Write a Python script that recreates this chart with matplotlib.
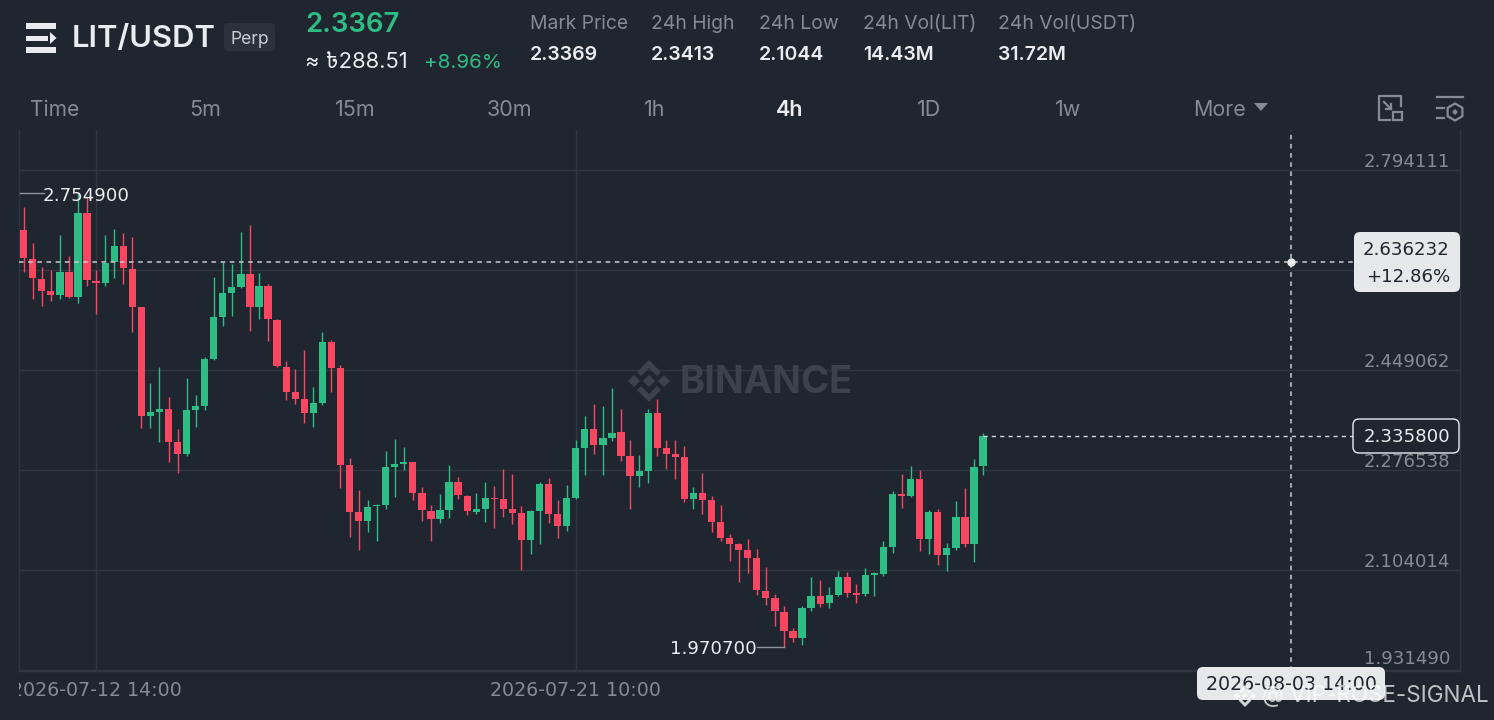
import matplotlib
matplotlib.use("Agg")
from matplotlib import pyplot as plt
from matplotlib.patches import FancyBboxPatch, Polygon, Rectangle, RegularPolygon
from matplotlib.transforms import Bbox
import numpy as np

# 4h candles, oldest first
opens = [2.6906, 2.6411, 2.6061, 2.5854, 2.5785, 2.6187, 2.5750, 2.7199, 2.6026, 2.5997,
         2.6348, 2.6630, 2.6239, 2.5572, 2.3692, 2.3772, 2.3824, 2.3249, 2.3036, 2.3807,
         2.3870, 2.4675, 2.5411, 2.5825, 2.5928, 2.6141, 2.5583, 2.5934, 2.5359, 2.4548,
         2.4106, 2.3985, 2.3755, 2.3927, 2.4968, 2.4520, 2.2846, 2.2035, 2.1891, 2.2139,
         2.2162, 2.2823, 2.2875, 2.2898, 2.2369, 2.2064, 2.1914, 2.2075, 2.2558, 2.2323,
         2.2047, 2.2098, 2.2288, 2.2259, 2.2093, 2.2018, 2.1564, 2.2058, 2.2518, 2.2001,
         2.1794, 2.2277, 2.3145, 2.3467, 2.3191, 2.3317, 2.3421, 2.3007, 2.2668, 2.2748,
         2.3743, 2.3139, 2.3041, 2.2984, 2.2265, 2.2369, 2.2242, 2.1863, 2.1587, 2.1495,
         2.1380, 2.1247, 2.0684, 2.0557, 2.0322, 1.9988, 1.9867, 2.0391, 2.0598, 2.0465,
         2.0615, 2.0914, 2.0644, 2.0621, 2.0960, 2.0971, 2.1443, 2.2346, 2.2311, 2.2604,
         2.1569, 2.2035, 2.1299, 2.1420, 2.1949, 2.1495, 2.2829]
highs = [2.7297, 2.6676, 2.6262, 2.6216, 2.6820, 2.6452, 2.7549, 2.7469, 2.6216, 2.6814,
         2.6929, 2.6860, 2.6791, 2.5578, 2.4261, 2.4537, 2.4031, 2.3479, 2.4347, 2.4054,
         2.4721, 2.6089, 2.6348, 2.6314, 2.6871, 2.6986, 2.6170, 2.5974, 2.5365, 2.4640,
         2.4502, 2.4830, 2.4203, 2.5141, 2.5014, 2.4577, 2.2967, 2.2426, 2.2242, 2.2173,
         2.3093, 2.3294, 2.3162, 2.2903, 2.2478, 2.2156, 2.2346, 2.2846, 2.2639, 2.2334,
         2.2363, 2.2553, 2.2484, 2.2777, 2.2696, 2.2139, 2.2075, 2.2553, 2.2622, 2.2248,
         2.2501, 2.3277, 2.3697, 2.3904, 2.3864, 2.4174, 2.3812, 2.3277, 2.3018, 2.3812,
         2.3990, 2.3283, 2.3283, 2.3179, 2.2466, 2.2708, 2.2311, 2.2162, 2.1656, 2.1500,
         2.1569, 2.1397, 2.1092, 2.0621, 2.0414, 2.0040, 2.0425, 2.0914, 2.0862, 2.0741,
         2.1023, 2.1000, 2.0799, 2.1069, 2.1006, 2.1535, 2.2403, 2.2691, 2.2840, 2.2760,
         2.2075, 2.2093, 2.1512, 2.2225, 2.2461, 2.2949, 2.3398]
lows = [2.6187, 2.5716, 2.5589, 2.5687, 2.5710, 2.5739, 2.5652, 2.5946, 2.5463, 2.5934,
        2.6084, 2.5969, 2.5152, 2.3490, 2.3496, 2.3255, 2.2904, 2.2714, 2.3002, 2.3513,
        2.3807, 2.4663, 2.5256, 2.5428, 2.5900, 2.5158, 2.5376, 2.4985, 2.4548, 2.3968,
        2.3910, 2.3577, 2.3513, 2.3893, 2.4117, 2.2450, 2.1615, 2.1391, 2.1702, 2.1546,
        2.2087, 2.2305, 2.2760, 2.2248, 2.1891, 2.1535, 2.1857, 2.1937, 2.2271, 2.1995,
        2.2006, 2.1868, 2.1765, 2.1960, 2.1834, 2.1046, 2.1316, 2.1495, 2.1851, 2.1592,
        2.1719, 2.2259, 2.2679, 2.3041, 2.2685, 2.3260, 2.2926, 2.2098, 2.2478, 2.2541,
        2.3013, 2.2777, 2.2616, 2.2219, 2.2098, 2.2012, 2.1702, 2.1535, 2.1201, 2.0839,
        2.0989, 2.0609, 2.0437, 2.0080, 1.9707, 1.9798, 1.9752, 2.0333, 2.0408, 2.0385,
        2.0598, 2.0569, 2.0471, 2.0586, 2.0592, 2.0943, 2.1339, 2.2116, 2.2305, 2.1374,
        2.1316, 2.1132, 2.1029, 2.1385, 2.1443, 2.1178, 2.2685]
closes = [2.6417, 2.6072, 2.5859, 2.5785, 2.6187, 2.5750, 2.7199, 2.6038, 2.5997, 2.6342,
          2.6630, 2.6245, 2.5578, 2.3692, 2.3766, 2.3824, 2.3255, 2.3036, 2.3795, 2.3864,
          2.4675, 2.5405, 2.5819, 2.5923, 2.6141, 2.5583, 2.5934, 2.5371, 2.4554, 2.4111,
          2.3996, 2.3755, 2.3922, 2.4968, 2.4531, 2.2852, 2.2047, 2.1891, 2.2133, 2.2167,
          2.2823, 2.2869, 2.2903, 2.2374, 2.2070, 2.1914, 2.2070, 2.2558, 2.2328, 2.2052,
          2.2098, 2.2282, 2.2259, 2.2093, 2.2024, 2.1564, 2.2052, 2.2518, 2.2006, 2.1794,
          2.2277, 2.3139, 2.3467, 2.3191, 2.3317, 2.3404, 2.3013, 2.2668, 2.2748, 2.3743,
          2.3139, 2.3047, 2.2984, 2.2265, 2.2369, 2.2242, 2.1868, 2.1587, 2.1495, 2.1391,
          2.1253, 2.0690, 2.0563, 2.0327, 1.9994, 1.9867, 2.0379, 2.0598, 2.0460, 2.0615,
          2.0914, 2.0649, 2.0615, 2.0954, 2.0989, 2.1437, 2.2351, 2.2311, 2.2604, 2.1569,
          2.2035, 2.1305, 2.1420, 2.1949, 2.1489, 2.2817, 2.3358]

price_ticks = [2.794111, 2.621586, 2.449062, 2.276538, 2.104014, 1.931490]
price_labels = ["2.794111", "2.621586", "2.449062", "2.276538", "2.104014", "1.931490"]
date_ticks = [8, 61]
date_labels = ["2026-07-12 14:00", "2026-07-21 10:00"]
intervals = ["5m", "15m", "30m", "1h", "4h", "1D", "1w"]
stat_names = ["Mark Price", "24h High", "24h Low", "24h Vol(LIT)", "24h Vol(USDT)"]
stat_values = ["2.3369", "2.3413", "2.1044", "14.43M", "31.72M"]

high_price = 2.7549
low_price = 1.9707
last_price = 2.3358
cross_index = 140
cross_price = 2.636232

BG = "#1f2630"
GREEN = "#2ebd85"
RED = "#fa4660"
GRID = "#2f3641"
GRAY = "#868b93"
WHITE = "#eaecef"
LIGHT = "#e6e8ea"
UI = ["Inter", "Noto Sans Bengali", "DejaVu Sans"]

def pt(px):
    return px * 0.72

fig = plt.figure(figsize=(14.94, 7.2), dpi=100, facecolor=BG)

# price chart, x is the candle number
ax = fig.add_axes([19 / 1494, 1 - 671 / 720, (1460 - 19) / 1494, (671 - 130) / 720], facecolor=BG)
ax.set_xlim(-0.519, 158.7)
ax.set_ylim(1.929766, 2.863121)
ax.spines["top"].set_visible(False)
for s in ["left", "right", "bottom"]:
    ax.spines[s].set_color(GRID)
    ax.spines[s].set_linewidth(1)

ax.set_yticks(price_ticks)
ax.set_yticklabels([])
ax.set_xticks(date_ticks)
ax.set_xticklabels(date_labels, fontsize=pt(19), color=GRAY)
ax.tick_params(axis="both", length=0)
ax.tick_params(axis="x", pad=7)
ax.grid(True, color=GRID, linewidth=1)
ax.set_axisbelow(True)
# the first date label runs off the left edge of the chart
for lab in ax.get_xticklabels():
    lab.set_clip_on(True)
    lab.set_clip_box(Bbox([[19, 0], [1460, 720]]))

for p, lab in zip(price_ticks, price_labels):
    ax.annotate(lab, (1, p), xycoords=("axes fraction", "data"), xytext=(-7.2, -0.8 if p > 1.94 else 1.2),
                textcoords="offset points", ha="right", va="bottom", fontsize=pt(18.2), color=GRAY)

for i in range(len(opens)):
    o, h, l, c = opens[i], highs[i], lows[i], closes[i]
    col = GREEN if c >= o else RED
    ax.vlines(i, l, h, color=col, linewidth=1.0, zorder=3)
    ax.bar(i, abs(c - o), bottom=min(o, c), width=0.8, color=col, linewidth=0, zorder=4)

# crosshair and last price
ax.axhline(cross_price, color="#c9ccd1", linewidth=1.1, dashes=(3, 3), zorder=5)
ax.axvline(cross_index, color="#c9ccd1", linewidth=1.1, dashes=(3, 3), zorder=5)
ax.plot([cross_index], [cross_price], "o", color=WHITE, markersize=5, zorder=6)
ax.plot([len(opens) - 1, 147], [last_price, last_price], color="#d5d7da", linewidth=1, dashes=(3, 3), zorder=5)

# high / low notes
ax.plot([-0.4, 2.2], [high_price, high_price], color="#8f949b", linewidth=1, zorder=5)
ax.annotate("2.754900", (2.1, high_price), xytext=(0, -2.2), textcoords="offset points",
            ha="left", va="center", fontsize=pt(18.3), color=WHITE, zorder=7)
ax.plot([81.0, 84], [low_price, low_price], color="#8f949b", linewidth=1, zorder=5)
ax.annotate("1.970700", (81.0, low_price), xytext=(0, -1.5), textcoords="offset points",
            ha="right", va="center", fontsize=pt(18.3), color=WHITE, zorder=7)

# everything around the chart is placed in pixels on a clear top layer
top = fig.add_axes([0, 0, 1, 1], facecolor="none")
top.set_xlim(0, 1494)
top.set_ylim(720, 0)
top.axis("off")

def logo(cx, cy, r, color, alpha=1.0, z=2):
    s = r / 21.0
    shapes = [
        [(0, -6), (6, 0), (0, 6), (-6, 0)],
        [(-21, 0), (-15, -6), (-9, 0), (-15, 6)],
        [(21, 0), (15, -6), (9, 0), (15, 6)],
        [(0, -21), (12, -9), (8, -5), (0, -13), (-8, -5), (-12, -9)],
        [(0, 21), (12, 9), (8, 5), (0, 13), (-8, 5), (-12, 9)],
    ]
    for shp in shapes:
        pts = [(cx + a * s, cy + b * s) for a, b in shp]
        top.add_patch(Polygon(pts, closed=True, facecolor=color, edgecolor="none", alpha=alpha, zorder=z))

# menu icon
for y0 in [23, 47]:
    top.add_patch(Rectangle((26, y0), 30, 6, facecolor=WHITE, edgecolor="none"))
top.add_patch(Rectangle((26, 35.5), 22, 5.5, facecolor=WHITE, edgecolor="none"))
top.add_patch(Polygon([(50, 32), (56.5, 38), (50, 44)], closed=True, facecolor=WHITE, edgecolor="none"))

top.text(72, 39, "LIT/USDT", family=UI, fontsize=pt(31), fontweight="semibold", color=WHITE, va="center", ha="left")
top.add_patch(FancyBboxPatch((227, 26), 45, 22, boxstyle="round,pad=3,rounding_size=4", facecolor="#2b323d", edgecolor="none"))
top.text(249.5, 39, "Perp", family=UI, fontsize=pt(17.5), color="#c9ccd1", va="center", ha="center")
top.text(305, 25, "2.3367", family=UI, fontsize=pt(27.5), fontweight="semibold", color=GREEN, va="center", ha="left")
top.text(305, 62, "≈ ৳288.51", family=UI, fontsize=pt(22), color=WHITE, va="center", ha="left")
top.text(424, 63, "+8.96%", family=UI, fontsize=pt(20.5), color=GREEN, va="center", ha="left")

stat_x = [530, 651, 759, 863, 998]
for x, name, val in zip(stat_x, stat_names, stat_values):
    top.text(x, 24, name, family=UI, fontsize=pt(19.3), color=GRAY, va="center", ha="left")
    top.text(x, 55, val, family=UI, fontsize=pt(19.5), fontweight="semibold", color=WHITE, va="center", ha="left")

top.text(30, 110, "Time", family=UI, fontsize=pt(21), color=GRAY, va="center", ha="left")
interval_x = [205, 355, 509, 655, 790, 929, 1068]
for x, name in zip(interval_x, intervals):
    on = name == "4h"
    top.text(x, 110, name, family=UI, fontsize=pt(21.5), color=WHITE if on else GRAY,
             fontweight="semibold" if on else "normal", va="center", ha="center")
top.text(1193, 110, "More", family=UI, fontsize=pt(21.5), color=GRAY, va="center", ha="left")
top.add_patch(Polygon([(1254, 103), (1268, 103), (1261, 111)], closed=True, facecolor=GRAY, edgecolor="none"))

# right side icons
top.plot([1401, 1401, 1379, 1379, 1390], [106, 96, 96, 120, 120], color=GRAY, linewidth=1.6)
top.add_patch(Rectangle((1393, 112), 9, 8, facecolor="none", edgecolor=GRAY, linewidth=1.6))
top.plot([1384, 1391], [102, 109], color=GRAY, linewidth=1.6)
top.plot([1391, 1391, 1386], [104, 109, 109], color=GRAY, linewidth=1.6)
top.plot([1437, 1463], [97, 97], color=GRAY, linewidth=1.6)
top.plot([1437, 1444], [108, 108], color=GRAY, linewidth=1.6)
top.plot([1437, 1444], [118, 118], color=GRAY, linewidth=1.6)
top.add_patch(RegularPolygon((1455, 112), 6, radius=8.5, facecolor="none", edgecolor=GRAY, linewidth=1.6))
top.add_patch(RegularPolygon((1455, 112), 4, radius=3, facecolor=GRAY, edgecolor="none"))

# watermark in the middle
logo(649, 381, 21, "#3b424c")
top.text(680, 383, "BINANCE", family=UI, fontsize=pt(38), fontweight="bold", color="#3b424c", va="center", ha="left", zorder=2)

# tooltips on the price axis
top.add_patch(FancyBboxPatch((1358, 236), 98, 52, boxstyle="round,pad=4,rounding_size=6", facecolor=LIGHT, edgecolor="none", zorder=8))
top.text(1450, 250, "2.636232", fontsize=pt(18.2), color=BG, va="center", ha="right", zorder=9)
top.text(1450, 277, "+12.86%", fontsize=pt(18.2), color=BG, va="center", ha="right", zorder=9)
top.add_patch(FancyBboxPatch((1358, 424), 96, 24, boxstyle="round,pad=5,rounding_size=6", facecolor=BG, edgecolor=WHITE, linewidth=1, zorder=8))
top.text(1450, 437, "2.335800", fontsize=pt(18.2), color=WHITE, va="center", ha="right", zorder=9)
top.add_patch(FancyBboxPatch((1201, 671), 180, 25, boxstyle="round,pad=4,rounding_size=6", facecolor=LIGHT, edgecolor="none", zorder=8))
top.text(1291, 685, "2026-08-03 14:00", fontsize=pt(19), color=BG, va="center", ha="center", zorder=9)

# poster watermark, bottom right
logo(1245, 696, 11, "#ffffff", 0.8, 10)
top.text(1262, 696, "@ VIP-ROSE-SIGNAL", family=UI, fontsize=pt(22.4), color="#ffffff", alpha=0.72, va="center", ha="left", zorder=10)

fig.savefig("out.png", dpi=100, facecolor=BG)
